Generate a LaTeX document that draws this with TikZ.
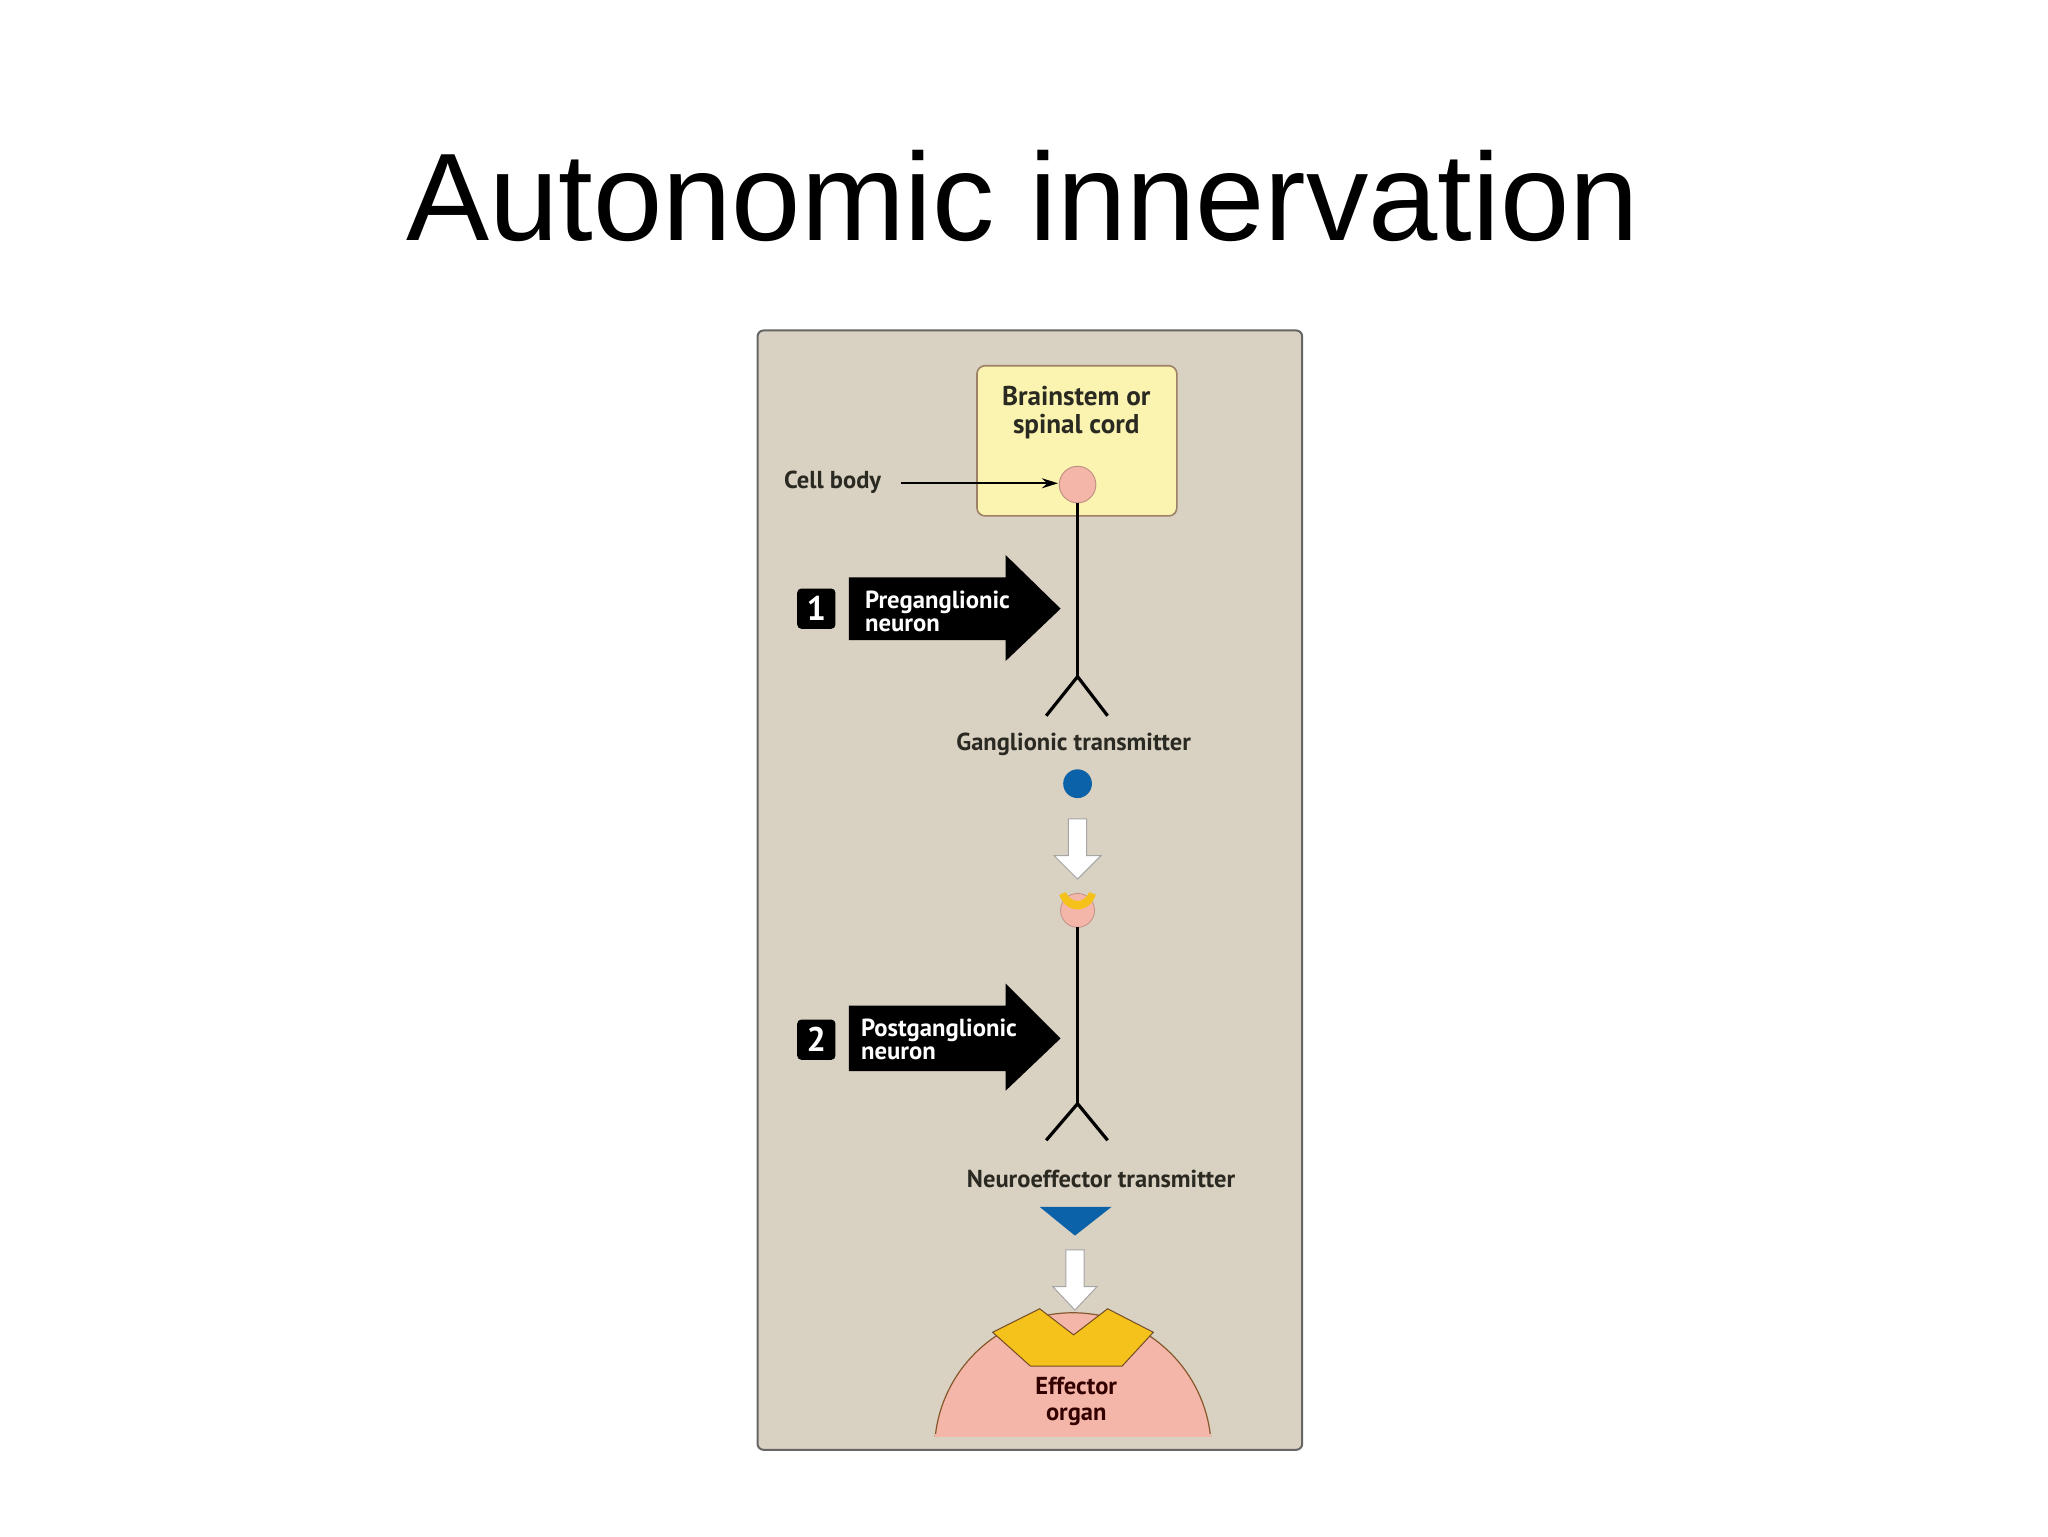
\documentclass[tikz,border=0pt]{standalone}
\usepackage{fontspec}
\usetikzlibrary{arrows.meta}
\setmainfont{Liberation Sans}
\newfontfamily\lab{PT Sans}
\definecolor{panel}{HTML}{D9D1C2}
\definecolor{boxy}{HTML}{FBF3B0}
\definecolor{pinkc}{HTML}{F4B6A8}
\definecolor{yel}{HTML}{F5C21C}
\definecolor{bluec}{HTML}{0B62A8}
\definecolor{txt}{HTML}{2A2A22}
\begin{document}
\begin{tikzpicture}[x=0.65pt,y=-0.65pt,
  lbl/.style={font=\lab\bfseries\fontsize{12.2}{13}\selectfont,text=txt,inner sep=0pt,align=center},
  wlbl/.style={font=\lab\bfseries\fontsize{12.3}{11.5}\selectfont,text=white,inner sep=0pt,align=left,anchor=west},
  badge/.style={fill=black,rounded corners=2pt,text=white,font=\lab\bfseries\fontsize{17}{17}\selectfont,minimum width=19pt,minimum height=20pt,inner sep=0pt},
  axon/.style={line width=1.6pt,black},
  bigarr/.style={fill=black},
  warr/.style={fill=white,draw=gray!70,line width=0.5pt}]
\useasboundingbox (0,0) rectangle (1568,1176);
\fill[white] (0,0) rectangle (1568,1176);
\node[font=\fontsize{62}{64}\selectfont] (title) at (783,150) {Autonomic innervation};
% panel
\draw[fill=panel,draw=gray!80!black,line width=1pt,rounded corners=3pt] (580,253) rectangle (997,1110);
% box
\draw[fill=boxy,draw=brown!60!black!70,line width=0.8pt,rounded corners=4pt] (748,280) rectangle (901,395);
\node[lbl,font=\lab\bfseries\fontsize{13.5}{14}\selectfont] (brain) at (824,316) {Brainstem or\\spinal cord};
\draw[fill=pinkc,draw=pinkc!80!black,line width=0.5pt] (825,371) circle (14);
\coordinate (cb) at (825,371);
\node[lbl,anchor=west] (cell) at (600,369) {Cell body};
\draw[line width=0.8pt,-{Stealth[length=8pt,width=5pt]}] (690,370) -- (810,370);
% axon 1
\coordinate (a1) at (825,385); \coordinate (f1) at (825,518);
\draw[axon] (a1) -- (f1);
\draw[axon] (801,548) -- (f1) -- (848,548);
% arrow 1
\fill[bigarr] (650,442) -- (770,442) -- (770,425) -- (812,466) -- (770,506) -- (770,490) -- (650,490) -- cycle;
\node[badge] (b1) at (625,466) {1};
\node[wlbl] (pre) at (662,468) {Preganglionic\\neuron};
\node[lbl] (gt) at (822,570) {Ganglionic transmitter};
\fill[bluec] (825,600) circle (11);
% white arrow 1
\draw[warr] (818,627) -- (832,627) -- (832,655) -- (843,655) -- (825,673) -- (807,655) -- (818,655) -- cycle;
% receptor
\draw[fill=pinkc,draw=pinkc!80!black,line width=0.4pt] (825,697) circle (13);
\fill[yel] (811,685) .. controls (816,700) and (834,700) .. (839,685) -- (834,683) .. controls (830,692) and (820,692) .. (816,683) -- cycle;
% axon 2
\coordinate (a2) at (825,710); \coordinate (f2) at (825,845);
\draw[axon] (a2) -- (f2);
\draw[axon] (801,873) -- (f2) -- (848,873);
% arrow 2
\fill[bigarr] (650,770) -- (770,770) -- (770,753) -- (812,795) -- (770,835) -- (770,820) -- (650,820) -- cycle;
\node[badge] (b2) at (625,796) {2};
\node[wlbl] (post) at (659,796) {Postganglionic\\neuron};
\node[lbl] (nt) at (843,903) {Neuroeffector transmitter};
\fill[bluec] (796,924) -- (851,924) -- (823,946) -- cycle;
% white arrow 2
\draw[warr] (816,957) -- (830,957) -- (830,985) -- (840,985) -- (823,1003) -- (806,985) -- (816,985) -- cycle;
% effector
\draw[fill=pinkc,draw=brown!70!black,line width=0.6pt] (716,1100) arc[start angle=186,end angle=354,radius=106];
\fill[pinkc] (716,1100) -- (927,1100) -- (927,1098) -- (716,1098) -- cycle;
\draw[fill=yel,draw=brown!60!black,line width=0.5pt] (760,1020) -- (796,1002) -- (822,1022) -- (848,1002) -- (883,1020) -- (859,1046) -- (789,1046) -- cycle;
\node[lbl,text=black!80!red] (eff) at (824,1073) {Effector\\organ};
\end{tikzpicture}
\end{document}
